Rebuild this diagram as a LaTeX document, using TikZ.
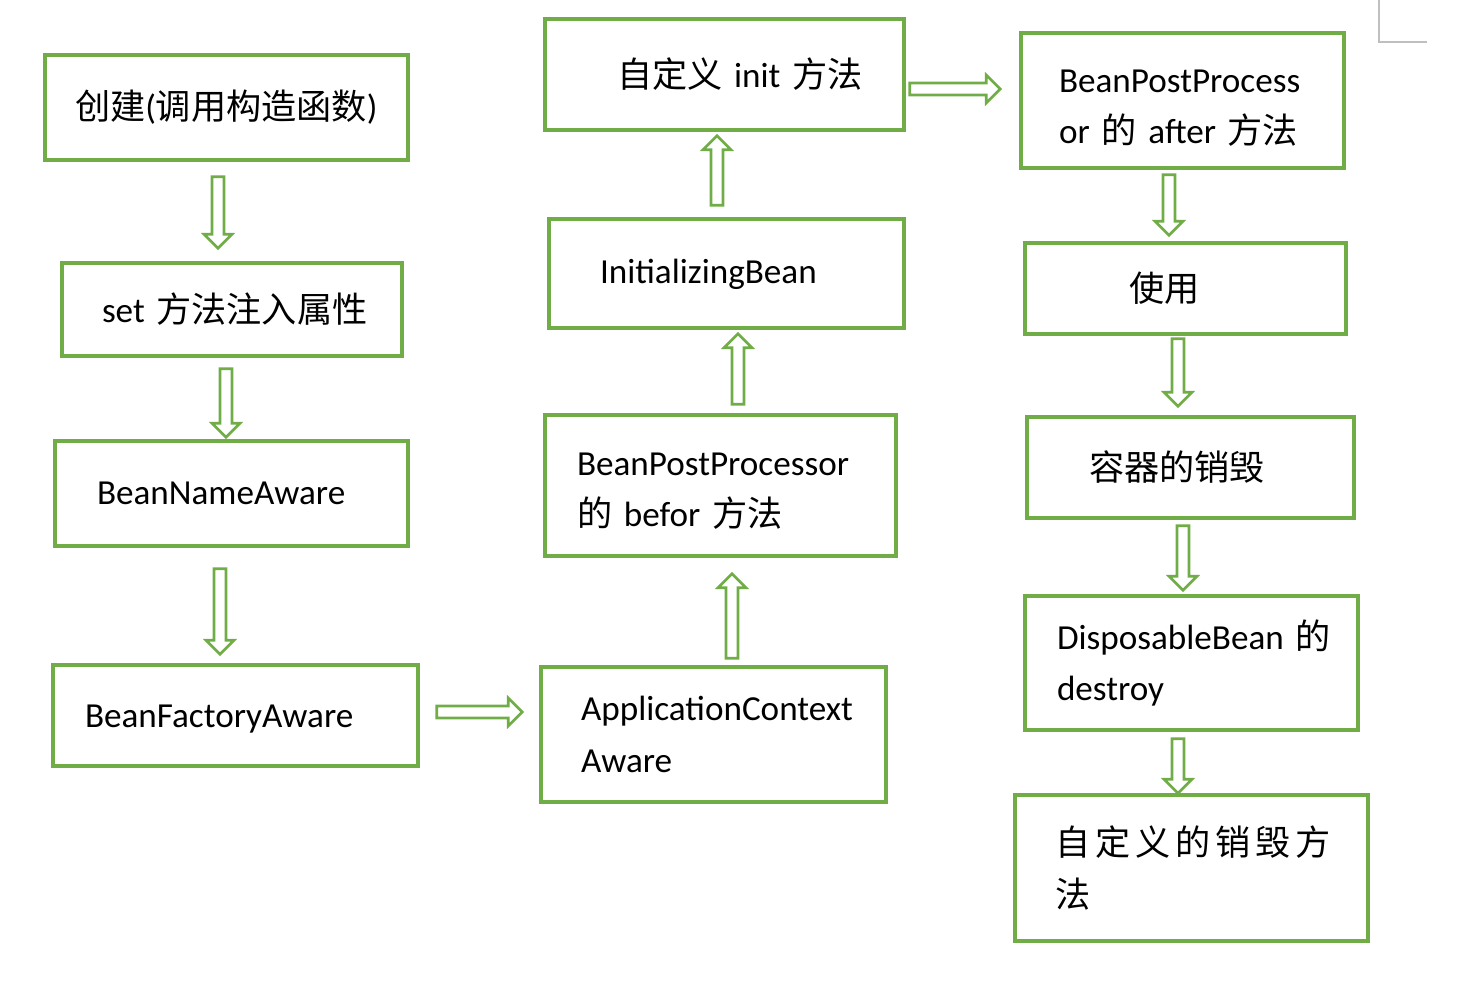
\documentclass[tikz,border=0pt]{standalone}
\usepackage{fontspec}
\setmainfont{Carlito}
\newfontfamily\cjk{Noto Sans CJK SC}
\newfontfamily\cjkwide[LetterSpace=14]{Noto Sans CJK SC}
\newcommand{\zh}[1]{{\cjk #1}}
\usetikzlibrary{calc}
\definecolor{boxgreen}{RGB}{112,173,71}
\hyphenpenalty=10000

\begin{document}
\begin{tikzpicture}[
    stage/.style={draw=boxgreen, line width=2pt, rectangle, align=left, font={\fontsize{20}{29.5}\selectfont}},
    flow/.style={draw=boxgreen, fill=white, line width=1.5pt, line join=miter},
    vflow/.style={to path={let \p1=(\tikztostart), \p2=(\tikztotarget), \n1={sign(\y2-\y1)} in
      ({\x1-0.12cm},\y1) -- ({\x1-0.12cm},{\y2-\n1*0.28cm}) -- ({\x1-0.28cm},{\y2-\n1*0.28cm}) -- (\x1,\y2)
      -- ({\x1+0.28cm},{\y2-\n1*0.28cm}) -- ({\x1+0.12cm},{\y2-\n1*0.28cm}) -- ({\x1+0.12cm},\y1) -- cycle}},
    hflow/.style={to path={let \p1=(\tikztostart), \p2=(\tikztotarget) in
      (\x1,{\y1-0.12cm}) -- ({\x2-0.28cm},{\y1-0.12cm}) -- ({\x2-0.28cm},{\y1-0.28cm}) -- (\x2,\y1)
      -- ({\x2-0.28cm},{\y1+0.28cm}) -- ({\x2-0.28cm},{\y1+0.12cm}) -- (\x1,{\y1+0.12cm}) -- cycle}}
  ]
    \useasboundingbox (0,0) rectangle (29.16,-19.6);
    \draw[gray!50, line width=0.6pt] (27.58,0) -- (27.58,-0.84) -- (28.54,-0.84);

    \node[stage, minimum width=7.26cm, minimum height=2.10cm, inner xsep=0.60cm, text width=6.06cm] (create) at (4.53,-2.15) {\zh{创建}(\zh{调用构造函数})};
    \node[stage, minimum width=6.80cm, minimum height=1.86cm, inner xsep=0.80cm, text width=5.20cm] (setprop) at (4.64,-6.19) {set~\zh{方法注入属性}};
    \node[stage, minimum width=7.06cm, minimum height=2.10cm, inner xsep=0.84cm, text width=5.38cm] (nameaware) at (4.63,-9.87) {BeanNameAware};
    \node[stage, minimum width=7.30cm, minimum height=2.02cm, inner xsep=0.64cm, text width=6.02cm, text height=0.7cm, text depth=0.24cm] (factoryaware) at (4.71,-14.31) {BeanFactoryAware};
    \node[stage, minimum width=6.90cm, minimum height=2.70cm, inner xsep=0.80cm, text width=5.30cm] (ctxaware) at (14.27,-14.69) {ApplicationContext\\Aware};
    \node[stage, minimum width=7.02cm, minimum height=2.82cm, inner xsep=0.64cm, text width=5.74cm, text height=0.6cm, text depth=1.02cm] (before) at (14.41,-9.71) {BeanPostProcessor\\\zh{的}~befor~\zh{方法}};
    \node[stage, minimum width=7.10cm, minimum height=2.18cm, inner xsep=1.02cm, text width=5.06cm, text height=0.6cm, text depth=0.22cm] (initbean) at (14.53,-5.47) {InitializingBean};
    \node[stage, minimum width=7.18cm, minimum height=2.22cm, inner xsep=1.44cm, text width=4.30cm] (initmethod) at (14.49,-1.49) {\zh{自定义}~init~\zh{方法}};
    \node[stage, minimum width=6.46cm, minimum height=2.70cm, inner xsep=0.76cm, text width=4.94cm, text height=0.6cm, text depth=0.94cm] (after) at (23.65,-2.01) {BeanPostProcess\\or~\zh{的}~after~\zh{方法}};
    \node[stage, minimum width=6.42cm, minimum height=1.82cm, inner xsep=2.08cm, text width=2.26cm] (use) at (23.71,-5.77) {\zh{使用}};
    \node[stage, minimum width=6.54cm, minimum height=2.02cm, inner xsep=1.24cm, text width=4.06cm] (shutdown) at (23.81,-9.35) {\zh{容器的销毁}};
    \node[stage, minimum width=6.66cm, minimum height=2.68cm, inner xsep=0.64cm, text width=5.38cm] (disposable) at (23.83,-13.26) {DisposableBean~\zh{的}\\destroy};
    \node[stage, minimum width=7.06cm, minimum height=2.92cm, inner xsep=0.80cm, text width=5.46cm] (destroymethod) at (23.83,-17.36) {{\cjkwide 自定义的销毁方}\\{\cjkwide 法}};

    \draw[flow] ([xshift=-0.17cm, yshift=-0.30cm]create.south) to[vflow] ([xshift=-0.28cm, yshift=0.26cm]setprop.north);
    \draw[flow] ([xshift=-0.12cm, yshift=-0.22cm]setprop.south) to[vflow] ([xshift=-0.11cm, yshift=0.04cm]nameaware.north);
    \draw[flow] ([xshift=-0.23cm, yshift=-0.42cm]nameaware.south) to[vflow] ([xshift=-0.31cm, yshift=0.18cm]factoryaware.north);
    \draw[flow] ([xshift=0.34cm, yshift=0.07cm]factoryaware.east) to[hflow] ([xshift=-0.34cm, yshift=0.45cm]ctxaware.west);
    \draw[flow] ([xshift=0.37cm, yshift=0.14cm]ctxaware.north) to[vflow] ([xshift=0.23cm, yshift=-0.32cm]before.south);
    \draw[flow] ([xshift=0.35cm, yshift=0.18cm]before.north) to[vflow] ([xshift=0.23cm, yshift=-0.08cm]initbean.south);
    \draw[flow] ([xshift=-0.19cm, yshift=0.24cm]initbean.north) to[vflow] ([xshift=-0.15cm, yshift=-0.08cm]initmethod.south);
    \draw[flow] ([xshift=0.08cm, yshift=-0.29cm]initmethod.east) to[hflow] ([xshift=-0.38cm, yshift=0.23cm]after.west);
    \draw[flow] ([xshift=-0.27cm, yshift=-0.10cm]after.south) to[vflow] ([xshift=-0.33cm, yshift=0.12cm]use.north);
    \draw[flow] ([xshift=-0.15cm, yshift=-0.06cm]use.south) to[vflow] ([xshift=-0.25cm, yshift=0.18cm]shutdown.north);
    \draw[flow] ([xshift=-0.15cm, yshift=-0.12cm]shutdown.south) to[vflow] ([xshift=-0.17cm, yshift=0.08cm]disposable.north);
    \draw[flow] ([xshift=-0.27cm, yshift=-0.14cm]disposable.south) to[vflow] ([xshift=-0.27cm, yshift=0cm]destroymethod.north);
\end{tikzpicture}
\end{document}
